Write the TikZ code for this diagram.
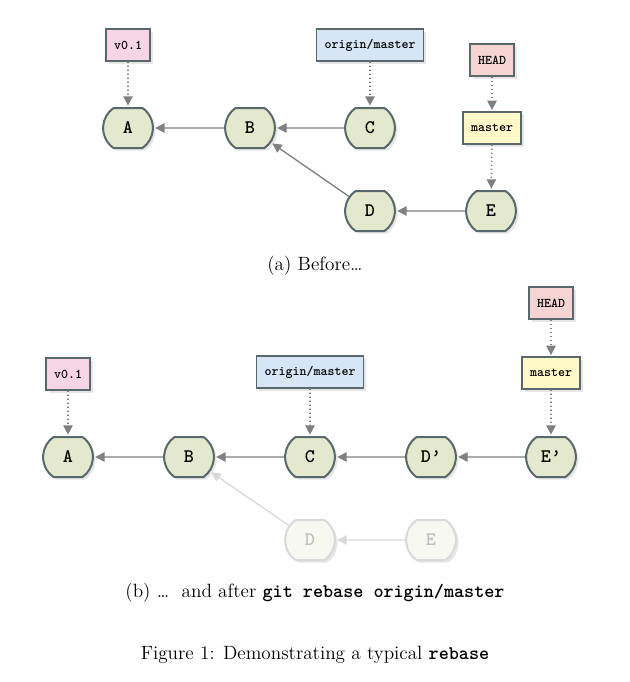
\documentclass[tikz,border=0pt]{standalone}
\usetikzlibrary{shapes.misc,shadows,arrows.meta}
\definecolor{cfill}{RGB}{228,232,204}
\definecolor{cdraw}{RGB}{88,104,108}
\definecolor{tpink}{RGB}{246,214,230}
\definecolor{tblue}{RGB}{214,230,246}
\definecolor{tred}{RGB}{246,212,212}
\definecolor{tyel}{RGB}{255,250,200}
\begin{document}
\begin{tikzpicture}[x=0.75pt,y=-0.75pt,
 commit/.style={rounded rectangle,rounded rectangle arc length=110,draw=cdraw,line width=1.5pt,fill=cfill,minimum width=44pt,minimum height=30pt,font=\ttfamily\bfseries\Large,drop shadow={opacity=0.2,shadow xshift=2pt,shadow yshift=-2pt}},
 faded/.style={commit,draw=black!15,fill=cfill!30,text=black!25,drop shadow={opacity=0}},
 tag/.style={draw=cdraw,line width=0.9pt,font=\ttfamily\bfseries\normalsize,minimum height=24pt,inner xsep=6pt,drop shadow={opacity=0.2,shadow xshift=2pt,shadow yshift=-2pt}},
 par/.style={-{Triangle[length=7pt,width=7pt]},draw=black!50,line width=1pt,shorten >=1pt},
 ref/.style={par,dotted,line width=1.2pt},
 fadedpar/.style={par,draw=black!15}]
\useasboundingbox (0,0) rectangle (630,682);
% top
\node[commit] (A1) at (128,128) {A};
\node[commit] (B1) at (250,128) {B};
\node[commit] (C1) at (370,128) {C};
\node[commit] (D1) at (370,211) {D};
\node[commit] (E1) at (491,211) {E};
\node[tag,fill=tpink] (v1) at (128,45) {v0.1};
\node[tag,fill=tblue] (o1) at (370,45) {origin/master};
\node[tag,fill=tred] (H1) at (492,60) {HEAD};
\node[tag,fill=tyel] (m1) at (492,128) {master};
\draw[par] (B1) -- (A1);
\draw[par] (C1) -- (B1);
\draw[par] (D1) -- (B1);
\draw[par] (E1) -- (D1);
\draw[ref] (v1) -- (A1);
\draw[ref] (o1) -- (C1);
\draw[ref] (H1) -- (m1);
\draw[ref] (m1) -- (E1);
\node[font=\Large] (cap1) at (315,266) {(a) Before\ldots};
% bottom
\node[faded] (D2) at (310,540) {D};
\node[faded] (E2) at (431,540) {E};
\node[commit] (A2) at (68,457) {A};
\node[commit] (B2) at (189,457) {B};
\node[commit] (C2) at (310,457) {C};
\node[commit] (Dp) at (431,457) {D’};
\node[commit] (Ep) at (551,457) {E’};
\node[tag,fill=tpink] (v2) at (68,374) {v0.1};
\node[tag,fill=tblue] (o2) at (310,372) {origin/master};
\node[tag,fill=tred] (H2) at (551,303) {HEAD};
\node[tag,fill=tyel] (m2) at (551,373) {master};
\draw[fadedpar] (D2) -- (B2);
\draw[fadedpar] (E2) -- (D2);
\draw[par] (B2) -- (A2);
\draw[par] (C2) -- (B2);
\draw[par] (Dp) -- (C2);
\draw[par] (Ep) -- (Dp);
\draw[ref] (v2) -- (A2);
\draw[ref] (o2) -- (C2);
\draw[ref] (H2) -- (m2);
\draw[ref] (m2) -- (Ep);
\node[font=\Large] (cap2) at (315,593) {(b) \ldots\ \ and after \texttt{\bfseries git rebase origin/master}};
\node[font=\Large] (fig) at (315,655) {Figure 1: Demonstrating a typical \texttt{\bfseries rebase}};
\end{tikzpicture}
\end{document}
